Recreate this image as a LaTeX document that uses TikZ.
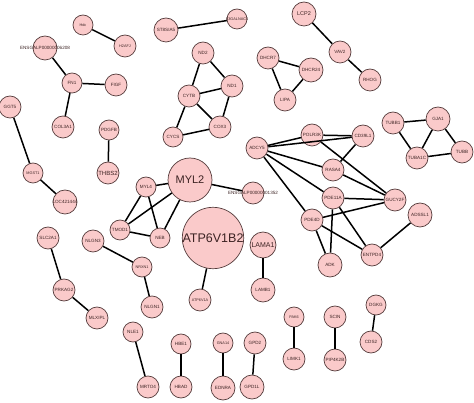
\documentclass[tikz,border=0pt]{standalone}
\usepackage{fontspec}
\setmainfont{Liberation Sans}
\usetikzlibrary{positioning}
\definecolor{genefill}{RGB}{250,202,202}
\definecolor{genedraw}{RGB}{85,60,60}
\definecolor{genetext}{RGB}{60,35,35}
\tikzset{
    gene/.style={
        circle,
        draw=genedraw,
        fill=genefill,
        line width=0.7pt,
        inner sep=0pt,
        minimum size=22pt,
        text=genetext,
        font=\fontsize{4.6}{5}\selectfont
    },
    tiny/.style={font=\fontsize{3.8}{4}\selectfont},
    every edge/.append style={
        draw,
        line width=1.5pt
    }
}

\begin{document}
\begin{tikzpicture}[x=1pt, y=-1pt]
                \clip (0,0) rectangle (474,403);

                \node[gene, tiny, minimum size=20pt] (hdc) at (83,25) {Hdc};
                \node[gene, tiny] (h2afj) at (125,46) {H2AFJ};
                \node[gene, minimum size=24pt] (ensga) at (45,48) {\makebox[0pt]{ENSGALP00000006208}};
                \node[gene, minimum size=20pt] (fn1) at (72,83) {FN1};
                \node[gene] (figf) at (116,85) {FIGF};
                \node[gene] (ggt5) at (10,107) {GGT5};
                \node[gene] (col3a1) at (63,127) {COL3A1};
                \node[gene, minimum size=20pt] (pdgfb) at (109,130) {PDGFB};
                \node[gene, minimum size=24pt] (st8sia5) at (166,30) {ST8SIA5};
                \node[gene, tiny, minimum size=20pt] (b3galnac4) at (237,19) {\makebox[0pt]{B3GALNAC4}};
                \node[gene] (nd2) at (203,53) {ND2};
                \node[gene] (nd1) at (232,86) {ND1};
                \node[gene] (cytb) at (189,96) {CYTB};
                \node[gene] (cox3) at (220,127) {COX3};
                \node[gene, minimum size=20pt] (cycs) at (173,137) {CYCS};
                \node[gene] (dhcr7) at (268,58) {DHCR7};
                \node[gene, minimum size=24pt] (dhcr24) at (311,70) {DHCR24};
                \node[gene] (lipa) at (285,100) {LIPA};
                \node[gene, minimum size=24pt, font=\fontsize{5.5}{6}\selectfont] (lcp2) at (304,14) {LCP2};
                \node[gene] (vav2) at (340,52) {VAV2};
                \node[gene] (rhog) at (370,80) {RHOG};
                \node[gene] (tubb1) at (393,123) {TUBB1};
                \node[gene, minimum size=24pt] (gja1) at (438,119) {GJA1};
                \node[gene] (tuba1c) at (417,158) {TUBA1C};
                \node[gene] (tubb) at (462,152) {TUBB};

                \node[gene] (polr3k) at (312,135) {POLR3K};
                \node[gene] (cd39l1) at (363,136) {CD39L1};
                \node[gene] (rasa4) at (333,170) {RASA4};
                \node[gene] (pde11a) at (333,198) {PDE11A};
                \node[gene] (gucy2f) at (395,200) {GUCY2F};
                \node[gene, minimum size=24pt] (adssl1) at (420,215) {ADSSL1};
                \node[gene] (pde4d) at (312,220) {PDE4D};
                \node[gene] (entpd4) at (372,255) {ENTPD4};
                \node[gene, minimum size=24pt] (adk) at (330,265) {ADK};
                \node[gene] (adcy5) at (257,148) {ADCY5};
                \node[gene] (ensgb) at (253,193) {\makebox[0pt]{ENSGALP00000001352}};

                \node[gene, minimum size=26pt, font=\fontsize{7}{8}\selectfont] (lama1) at (263,245) {LAMA1};
                \node[gene, minimum size=44pt, font=\fontsize{11}{12}\selectfont] (myl2) at (190,180) {MYL2};
                \node[gene, minimum size=60pt, font=\fontsize{12.5}{13}\selectfont] (atp6v1b2) at (213,238) {ATP6V1B2};
                \node[gene, font=\fontsize{6}{7}\selectfont] (thbs2) at (108,173) {THBS2};
                \node[gene, tiny, minimum size=20pt] (mgst1) at (33,173) {MGST1};
                \node[gene, minimum size=24pt] (loc421444) at (65,202) {\makebox[0pt]{LOC421444}};
                \node[gene, minimum size=20pt] (myl4) at (146,187) {MYL4};
                \node[gene, minimum size=20pt] (tmod1) at (120,230) {TMOD1};
                \node[gene, minimum size=20pt] (neb) at (160,238) {NEB};
                \node[gene] (slc2a1) at (48,238) {SLC2A1};
                \node[gene] (nlgn3) at (93,241) {NLGN3};
                \node[gene, tiny, minimum size=20pt] (nrxn1) at (142,267) {NRXN1};
                \node[gene] (nlgn1) at (152,307) {NLGN1};
                \node[gene] (prkag2) at (64,290) {PRKAG2};
                \node[gene] (mlxipl) at (97,318) {MLXIPL};
                \node[gene, minimum size=20pt] (nle1) at (133,332) {NLE1};
                \node[gene] (mrto4) at (148,387) {MRTO4};
                \node[gene, tiny] (atp6v1a) at (200,300) {ATP6V1A};
                \node[gene, minimum size=24pt] (lamb1) at (263,290) {LAMB1};
                \node[gene, tiny, minimum size=20pt] (pak6) at (294,317) {PAK6};
                \node[gene] (limk1) at (294,359) {LIMK1};
                \node[gene, minimum size=20pt] (hbe1) at (181,344) {HBE1};
                \node[gene] (hbad) at (181,387) {HBAD};
                \node[gene, tiny, minimum size=20pt] (gna14) at (223,343) {GNA14};
                \node[gene, minimum size=24pt] (ednra) at (223,388) {EDNRA};
                \node[gene] (gpd2) at (255,343) {GPD2};
                \node[gene, minimum size=24pt] (gpd1l) at (252,387) {GPD1L};
                \node[gene] (scin) at (335,317) {SCIN};
                \node[gene] (pip4k2b) at (335,360) {PIP4K2B};
                \node[gene, minimum size=20pt] (dgkg) at (376,305) {DGKG};
                \node[gene] (cds2) at (371,342) {CDS2};

                \draw (hdc) edge (h2afj);
                \draw (st8sia5) edge (b3galnac4);
                \draw (lcp2) edge (vav2) (vav2) edge (rhog);
                \draw (ensga) edge (fn1) (fn1) edge (figf) (fn1) edge (col3a1);
                \draw (nd2) edge (cytb) (nd2) edge (nd1) (cytb) edge (nd1);
                \draw (cytb) edge (cox3) (nd1) edge (cox3) (cytb) edge (cycs) (cycs) edge (cox3);
                \draw (dhcr7) edge (dhcr24) (dhcr7) edge (lipa) (lipa) edge (dhcr24);
                \draw (tubb1) edge (gja1) (tubb1) edge (tuba1c) (gja1) edge (tuba1c);
                \draw (gja1) edge (tubb) (tuba1c) edge (tubb);
                \draw (ggt5) edge (mgst1) (mgst1) edge (loc421444);
                \draw (pdgfb) edge (thbs2);
                \draw (myl2) edge (myl4) (myl2) edge (tmod1) (myl2) edge (neb) (myl2) edge (ensgb);
                \draw (myl4) edge (tmod1) (myl4) edge (neb) (tmod1) edge (neb);
                \draw (atp6v1b2) edge (atp6v1a);
                \draw (lama1) edge (lamb1);
                \draw (nlgn3) edge (nrxn1) (nrxn1) edge (nlgn1);
                \draw (slc2a1) edge (prkag2) (prkag2) edge (mlxipl);
                \draw (nle1) edge (mrto4);
                \draw (hbe1) edge (hbad) (gna14) edge (ednra) (gpd2) edge (gpd1l);
                \draw (pak6) edge (limk1) (scin) edge (pip4k2b) (dgkg) edge (cds2);
                \draw (adcy5) edge (polr3k) (adcy5) edge (cd39l1) (adcy5) edge (rasa4);
                \draw (adcy5) edge (pde11a) (adcy5) edge (pde4d);
                \draw (polr3k) edge (cd39l1) (polr3k) edge (gucy2f) (cd39l1) edge (rasa4);
                \draw (rasa4) edge (gucy2f) (pde11a) edge (gucy2f) (pde4d) edge (gucy2f);
                \draw (pde11a) edge (adk) (pde11a) edge (entpd4);
                \draw (pde4d) edge (adk) (pde4d) edge (entpd4) (entpd4) edge (adssl1);
            \end{tikzpicture}
\end{document}
